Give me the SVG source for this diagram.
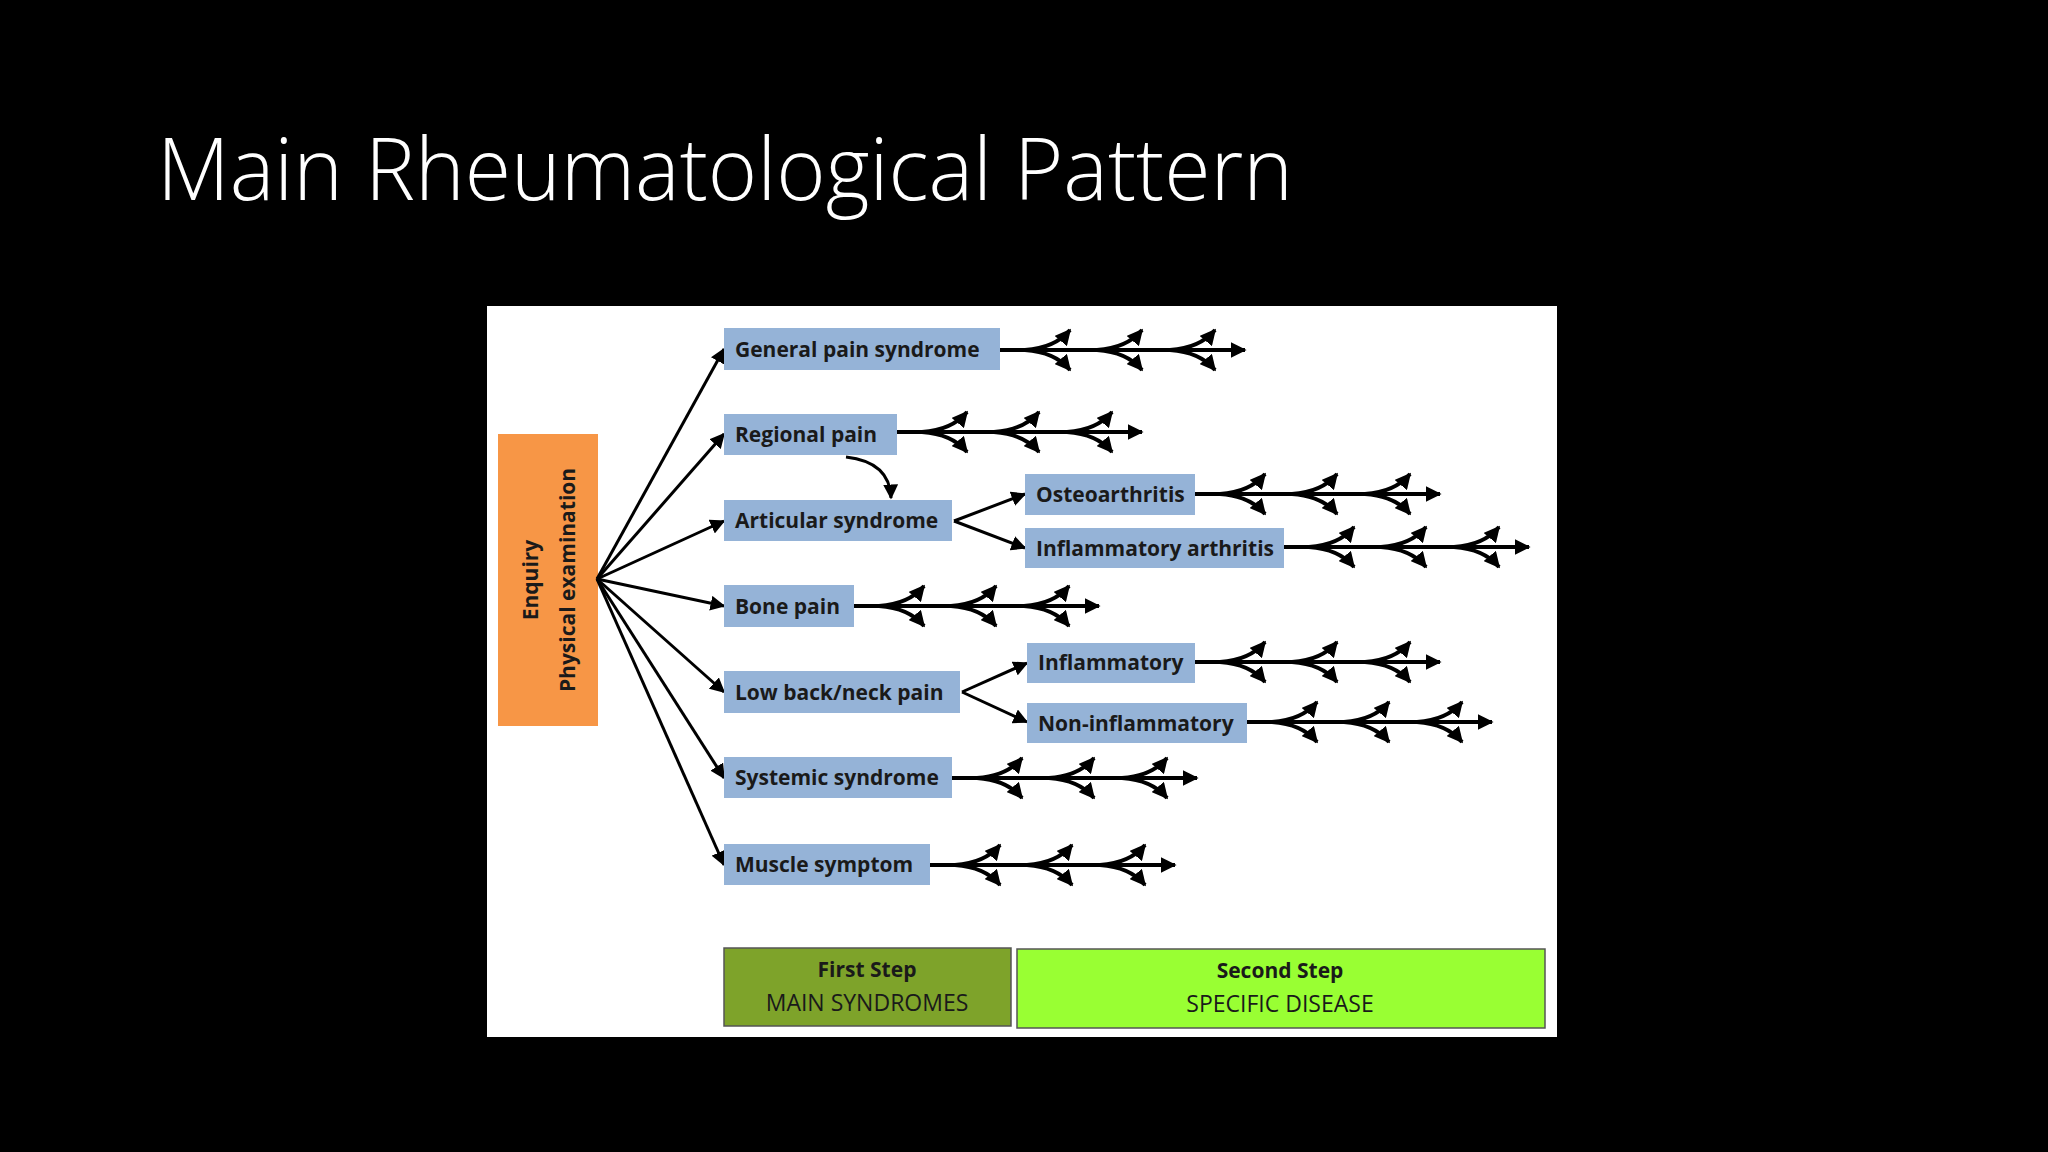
<svg xmlns="http://www.w3.org/2000/svg" width="2048" height="1152" viewBox="0 0 2048 1152">
<style>
.box{fill:#95b3d7}
.bt{font-family:"Open Sans","Liberation Sans",sans-serif;font-weight:bold;font-size:21px;fill:#1a1a1a}
.ln{stroke:#000;stroke-width:3;fill:none}
.fl{stroke:#000;stroke-width:4;fill:none}
</style>
<defs>
<marker id="ah" viewBox="0 0 10 10" refX="9" refY="5" markerWidth="5" markerHeight="5" orient="auto" markerUnits="strokeWidth"><path d="M0,0 L10,5 L0,10 Z" fill="#000"/></marker>
<marker id="ah2" viewBox="0 0 10 10" refX="9" refY="5" markerWidth="4" markerHeight="4" orient="auto" markerUnits="strokeWidth"><path d="M0,0 L10,5 L0,10 Z" fill="#000"/></marker>
<g id="fb">
<path class="fl" d="M0,0 H245" marker-end="url(#ah2)"/>
<path class="fl" d="M25,0 Q55,-2 70,-20" marker-end="url(#ah2)"/>
<path class="fl" d="M25,0 Q55,2 70,20" marker-end="url(#ah2)"/>
<path class="fl" d="M97,0 Q127,-2 142,-20" marker-end="url(#ah2)"/>
<path class="fl" d="M97,0 Q127,2 142,20" marker-end="url(#ah2)"/>
<path class="fl" d="M170,0 Q200,-2 215,-20" marker-end="url(#ah2)"/>
<path class="fl" d="M170,0 Q200,2 215,20" marker-end="url(#ah2)"/>
</g>
</defs>
<rect width="2048" height="1152" fill="#000"/>
<text x="157" y="200" font-family="Open Sans, Liberation Sans, sans-serif" font-weight="300" font-size="86" fill="#fff" textLength="1136" lengthAdjust="spacingAndGlyphs">Main Rheumatological Pattern</text>
<rect x="487" y="306" width="1070" height="731" fill="#fff"/>

<g id="origin">
<rect x="498" y="434" width="100" height="292" fill="#f79646"/>
<text class="bt" font-size="25" transform="translate(538,580) rotate(-90)" text-anchor="middle">Enquiry</text>
<text class="bt" font-size="25" transform="translate(575,580) rotate(-90)" text-anchor="middle">Physical examination</text>
</g>

<g id="connectors">
<path class="ln" d="M597,579 L724,349" marker-end="url(#ah)"/>
<path class="ln" d="M597,579 L724,434" marker-end="url(#ah)"/>
<path class="ln" d="M597,579 L724,521" marker-end="url(#ah)"/>
<path class="ln" d="M597,579 L724,606" marker-end="url(#ah)"/>
<path class="ln" d="M597,579 L724,692" marker-end="url(#ah)"/>
<path class="ln" d="M597,579 L724,778" marker-end="url(#ah)"/>
<path class="ln" d="M597,579 L724,865" marker-end="url(#ah)"/>
<path class="ln" d="M846,457 Q890,462 891,498" marker-end="url(#ah)"/>
<path class="ln" d="M954,521 L1025,494" marker-end="url(#ah)"/>
<path class="ln" d="M954,521 L1025,548" marker-end="url(#ah)"/>
<path class="ln" d="M962,692 L1027,663" marker-end="url(#ah)"/>
<path class="ln" d="M962,692 L1027,722" marker-end="url(#ah)"/>
<use href="#fb" x="1000" y="350"/>
<use href="#fb" x="897" y="432"/>
<use href="#fb" x="1195" y="494"/>
<use href="#fb" x="1284" y="547"/>
<use href="#fb" x="854" y="606"/>
<use href="#fb" x="1195" y="662"/>
<use href="#fb" x="1247" y="722"/>
<use href="#fb" x="952" y="778"/>
<use href="#fb" x="930" y="865"/>
</g>

<g id="n1"><rect class="box" x="724" y="328" width="276" height="42"/><text class="bt" x="735" y="357">General pain syndrome</text></g>
<g id="n2"><rect class="box" x="724" y="414" width="173" height="41"/><text class="bt" x="735" y="442">Regional pain</text></g>
<g id="n3"><rect class="box" x="724" y="500" width="228" height="41"/><text class="bt" x="735" y="528">Articular syndrome</text></g>
<g id="n4"><rect class="box" x="1025" y="474" width="170" height="41"/><text class="bt" x="1036" y="502">Osteoarthritis</text></g>
<g id="n5"><rect class="box" x="1025" y="528" width="259" height="40"/><text class="bt" x="1036" y="556">Inflammatory arthritis</text></g>
<g id="n6"><rect class="box" x="724" y="585" width="130" height="42"/><text class="bt" x="735" y="614">Bone pain</text></g>
<g id="n7"><rect class="box" x="724" y="671" width="236" height="42"/><text class="bt" x="735" y="700">Low back/neck pain</text></g>
<g id="n8"><rect class="box" x="1027" y="643" width="168" height="40"/><text class="bt" x="1038" y="670">Inflammatory</text></g>
<g id="n9"><rect class="box" x="1027" y="703" width="220" height="40"/><text class="bt" x="1038" y="731">Non-inflammatory</text></g>
<g id="n10"><rect class="box" x="724" y="757" width="228" height="41"/><text class="bt" x="735" y="785">Systemic syndrome</text></g>
<g id="n11"><rect class="box" x="724" y="844" width="206" height="41"/><text class="bt" x="735" y="872">Muscle symptom</text></g>

<g id="step1"><rect x="724" y="948" width="287" height="78" fill="#7ea32a" stroke="#555" stroke-width="1.5"/>
<text class="bt" x="867" y="977" text-anchor="middle">First Step</text>
<text x="867" y="1011" text-anchor="middle" font-family="Open Sans, Liberation Sans, sans-serif" font-size="23" fill="#1a1a1a">MAIN SYNDROMES</text></g>
<g id="step2"><rect x="1017" y="949" width="528" height="79" fill="#99ff33" stroke="#555" stroke-width="1.5"/>
<text class="bt" x="1280" y="978" text-anchor="middle">Second Step</text>
<text x="1280" y="1012" text-anchor="middle" font-family="Open Sans, Liberation Sans, sans-serif" font-size="23" fill="#1a1a1a">SPECIFIC DISEASE</text></g>
</svg>
